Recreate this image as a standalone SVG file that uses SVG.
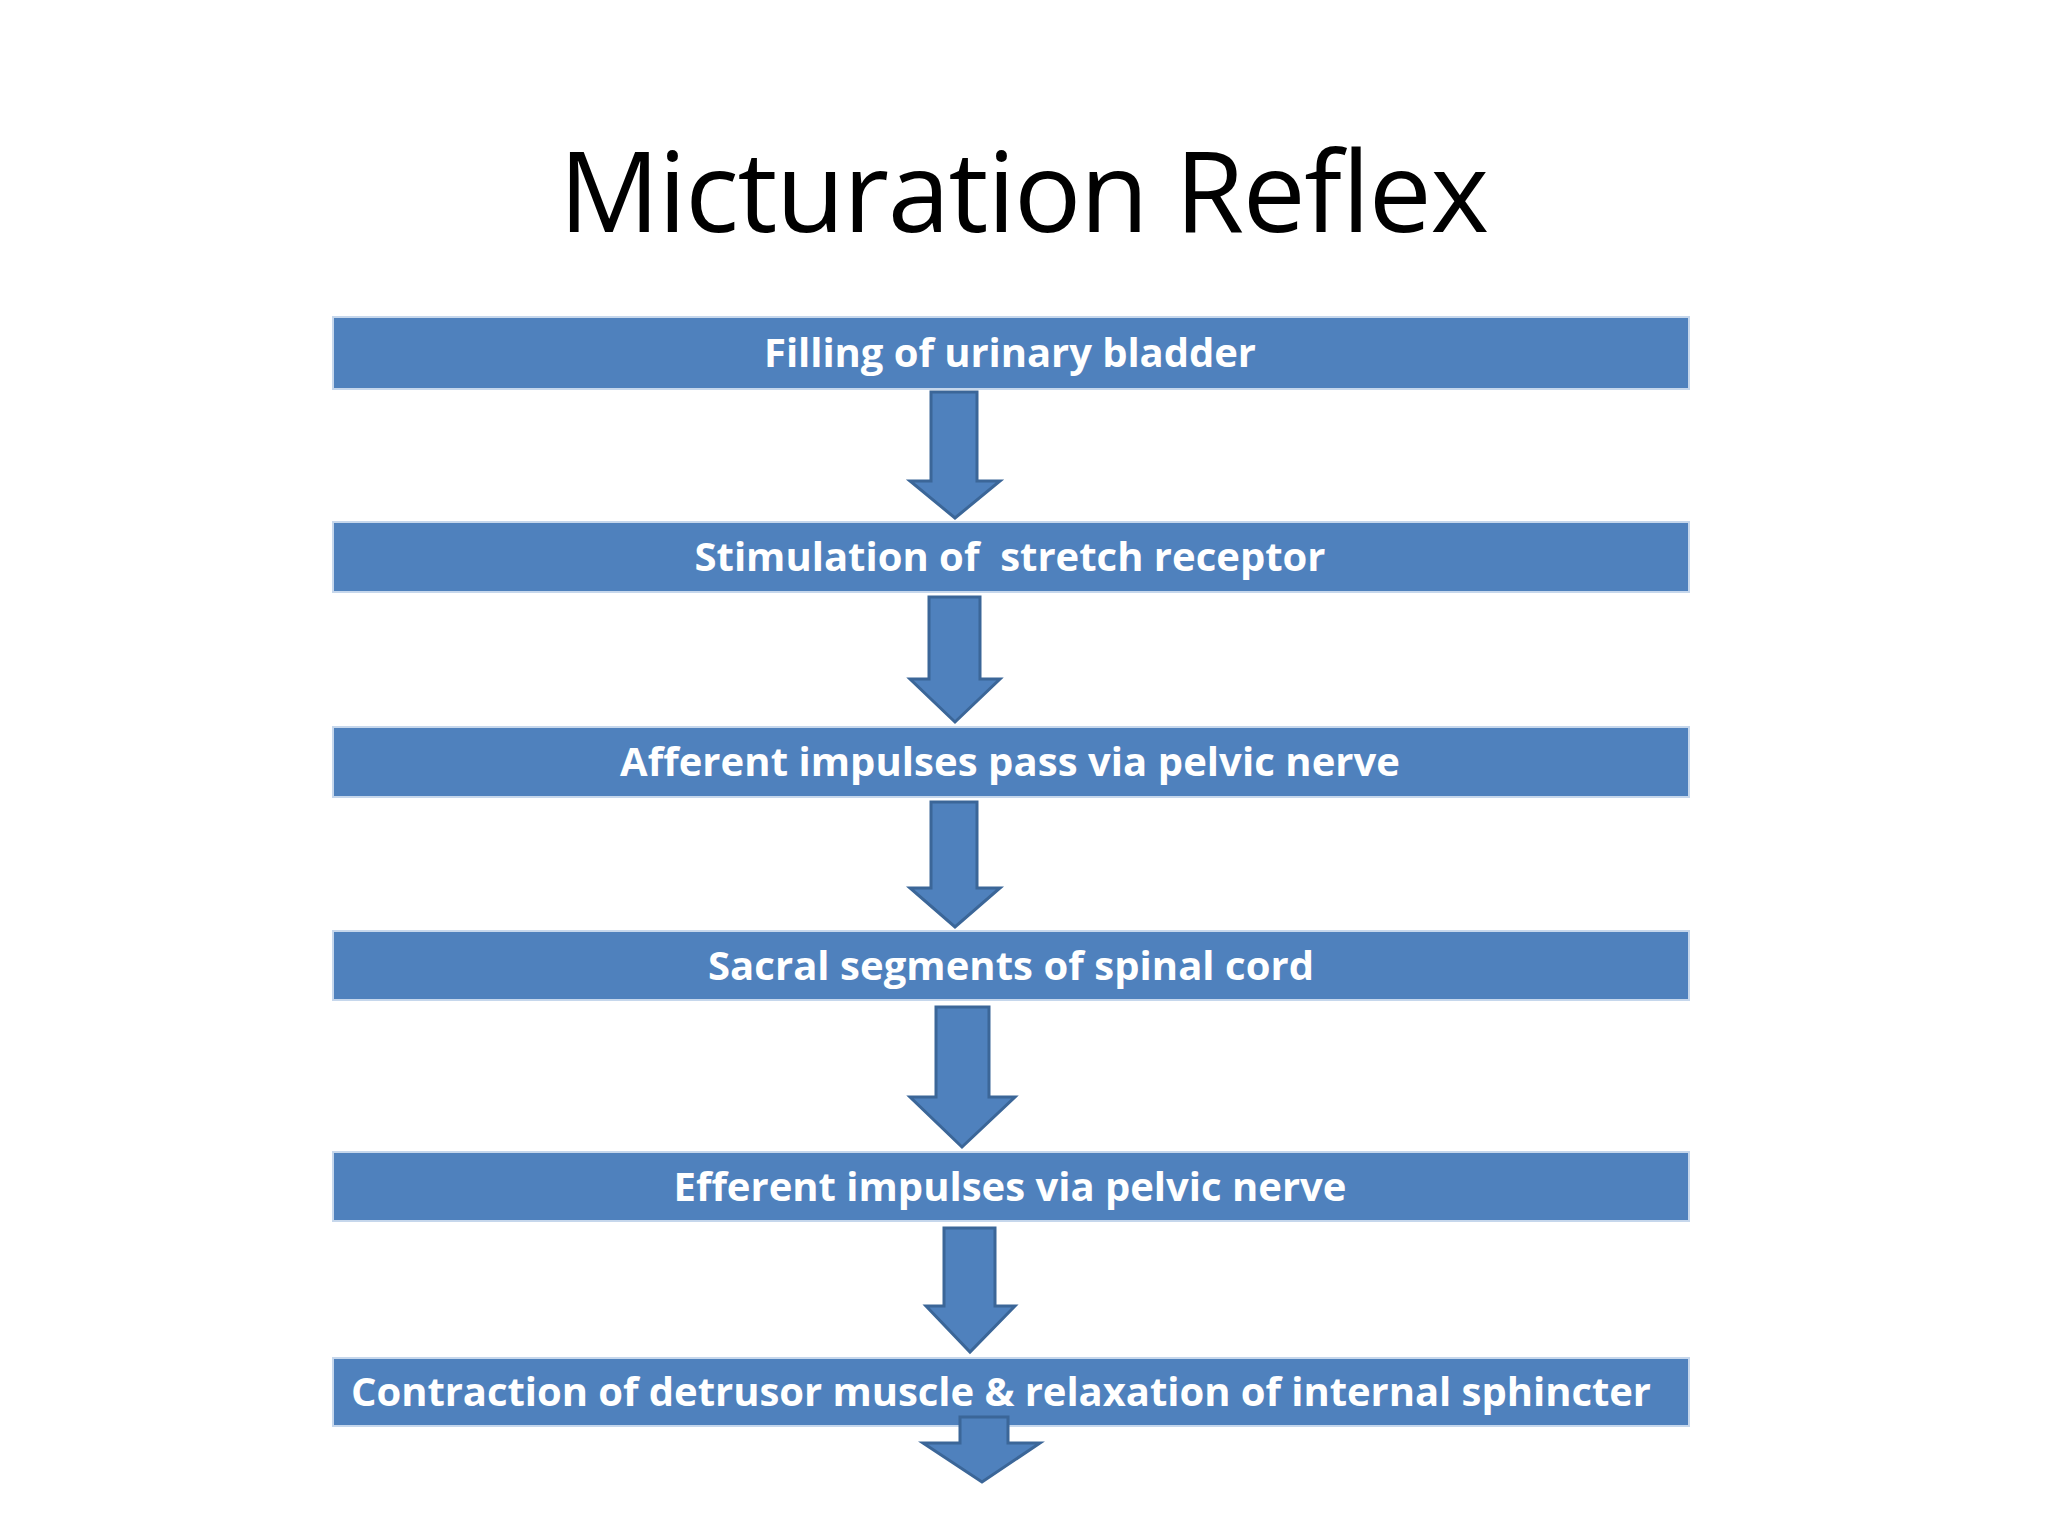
<svg xmlns="http://www.w3.org/2000/svg" width="2048" height="1536" viewBox="0 0 2048 1536">
<style>
.box{fill:#4f81bd;stroke:#c6d7ec;stroke-width:2}
.t{font-family:"Open Sans","Liberation Sans",sans-serif;font-weight:bold;font-size:40px;fill:#fff;text-anchor:middle}
.ar{fill:#4f81bd;stroke:#3b6698;stroke-width:3}
</style>
<rect width="2048" height="1536" fill="#fff"/>
<text x="1024" y="232" font-family="Open Sans, Liberation Sans, sans-serif" font-size="112" text-anchor="middle" textLength="930" fill="#000">Micturation Reflex</text>
<g id="n1"><rect class="box" x="333" y="317" width="1356" height="72"/><text class="t" x="1010" y="367" textLength="492">Filling of urinary bladder</text></g>
<g id="n2"><rect class="box" x="333" y="522" width="1356" height="70"/><text class="t" x="1010" y="571" textLength="631" xml:space="preserve">Stimulation of  stretch receptor</text></g>
<g id="n3"><rect class="box" x="333" y="727" width="1356" height="70"/><text class="t" x="1010" y="776" textLength="780">Afferent impulses pass via pelvic nerve</text></g>
<g id="n4"><rect class="box" x="333" y="931" width="1356" height="69"/><text class="t" x="1011" y="980" textLength="606">Sacral segments of spinal cord</text></g>
<g id="n5"><rect class="box" x="333" y="1152" width="1356" height="69"/><text class="t" x="1010" y="1201" textLength="673">Efferent impulses via pelvic nerve</text></g>
<g id="n6"><rect class="box" x="333" y="1358" width="1356" height="68"/><text class="t" x="1001" y="1406" textLength="1300">Contraction of detrusor muscle &amp; relaxation of internal sphincter</text></g>
<g id="connectors">
<polygon class="ar" points="931,392 977,392 977,481 1000,481 955,518 910,481 931,481"/>
<polygon class="ar" points="929,597 980,597 980,679 1000,679 955,722 910,679 929,679"/>
<polygon class="ar" points="931,802 977,802 977,888 1000,888 955,927 910,888 931,888"/>
<polygon class="ar" points="936,1007 989,1007 989,1097 1015,1097 962,1147 910,1097 936,1097"/>
<polygon class="ar" points="944,1228 995,1228 995,1306 1015,1306 970,1352 926,1306 944,1306"/>
<polygon class="ar" points="960,1417 1008,1417 1008,1443 1040,1443 982,1482 923,1443 960,1443"/>
</g>
</svg>
